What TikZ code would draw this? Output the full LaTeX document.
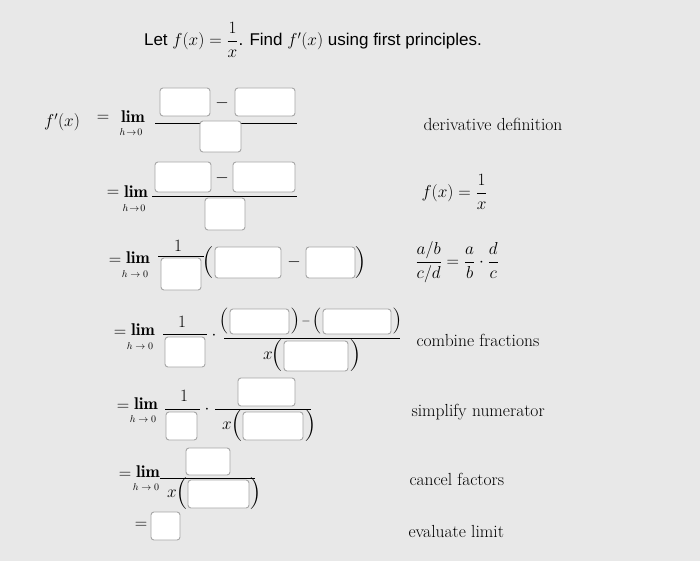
\documentclass[tikz,border=0pt]{standalone}
\usepackage{amsmath}
\usepackage{fontspec}
\newfontfamily\sansf{Liberation Sans}
\begin{document}
\begin{tikzpicture}[x=1pt,y=-1pt,
  bx/.style={draw=gray!70,fill=white,rounded corners=3pt,line width=0.9pt},
  fl/.style={line width=0.6pt},
  mt/.style={font=\fontsize{17}{20}\selectfont},
  sm/.style={font=\fontsize{10}{11}\selectfont},
  rt/.style={font=\fontsize{17.5}{20}\selectfont,anchor=west},
  par/.style={font=\fontsize{32}{32}\selectfont,inner sep=0pt},
  sp/.style={font=\fontsize{26}{26}\selectfont,inner sep=0pt}]
\fill[gray!18] (0,0) rectangle (700,561);
\useasboundingbox (0,0) rectangle (700,561);
\node[font=\sansf\fontsize{17}{20}\selectfont] (title) at (313,40) {Let $f(x)=\dfrac{1}{x}$. Find $f'(x)$ using first principles.};
% row 1
\node[mt] (fp) at (62,122) {$f'(x)$};
\node[mt] (e1) at (103,118) {$=$};
\node[mt] (l1) at (133,117) {$\mathbf{lim}$}; \node[sm] (h1) at (131,132) {$h\!\to\!0$};
\draw[bx] (160,88) rectangle (210,116); \draw[bx] (235,88) rectangle (295,116);
\node[mt] (m1) at (222,103) {$-$};
\draw[fl] (155,123) -- (297,123);
\draw[bx] (200,121) rectangle (241,152);
\node[rt] (r1) at (420,124) {derivative definition};
% row 2
\node[mt] (e2) at (113,193) {$=$};
\node[mt] (l2) at (136,192) {$\mathbf{lim}$}; \node[sm] (h2) at (134,208) {$h\!\to\!0$};
\draw[bx] (155,162) rectangle (211,192); \draw[bx] (233,162) rectangle (295,192);
\node[mt] (m2) at (222,178) {$-$};
\draw[fl] (152,196) -- (297,196);
\draw[bx] (205,198) rectangle (245,230);
\node[rt] (r2) at (418,192) {$f(x)=\dfrac{1}{x}$};
% row 3
\node[mt] (e3) at (115,261) {$=$};
\node[mt] (l3) at (138,258) {$\mathbf{lim}$}; \node[sm] (h3) at (135,274) {$h\to0$};
\node[mt] (o3) at (178,246) {$1$};
\draw[fl] (158,256) -- (204,256);
\draw[bx] (161,258) rectangle (201,290);
\node[par] (p3a) at (208,263) {(}; \node[par] (p3b) at (360,263) {)};
\draw[bx] (215,247) rectangle (281,278); \draw[bx] (306,247) rectangle (355,278);
\node[mt] (m3) at (294,262) {$-$};
\node[rt] (r3) at (412,262) {$\dfrac{a/b}{c/d}=\dfrac{a}{b}\cdot\dfrac{d}{c}$};
% row 4
\node[mt] (e4) at (120,333) {$=$};
\node[mt] (l4) at (143,330) {$\mathbf{lim}$}; \node[sm] (h4) at (140,346) {$h\to0$};
\node[mt] (o4) at (182,322) {$1$};
\draw[fl] (163,334) -- (207,334);
\draw[bx] (165,337) rectangle (205,367);
\node[mt] (d4) at (214,336) {$\cdot$};
\node[sp] (p4a) at (224,321) {(}; \node[sp] (p4b) at (295,321) {)};
\node[sp] (p4c) at (317,321) {(}; \node[sp] (p4d) at (397,321) {)};
\draw[bx] (230,309) rectangle (289,334); \draw[bx] (323,309) rectangle (391,334);
\node[font=\fontsize{12}{12}\selectfont,inner sep=0pt] (m4) at (306,321) {$-$};
\draw[fl] (224,338) -- (400,338);
\node[mt] (x4) at (268,356) {$x$};
\node[par] (p4e) at (277,356) {(}; \node[par] (p4f) at (355,356) {)};
\draw[bx] (284,341) rectangle (348,371);
\node[rt] (r4) at (413,340) {combine fractions};
% row 5
\node[mt] (e5) at (123,407) {$=$};
\node[mt] (l5) at (146,404) {$\mathbf{lim}$}; \node[sm] (h5) at (143,419) {$h\to0$};
\node[mt] (o5) at (184,396) {$1$};
\draw[fl] (165,409) -- (200,409);
\draw[bx] (166,412) rectangle (197,440);
\node[mt] (d5) at (207,410) {$\cdot$};
\draw[bx] (238,378) rectangle (295,406);
\draw[fl] (215,409) -- (311,409);
\node[mt] (x5) at (227,426) {$x$};
\node[par] (p5a) at (237,426) {(}; \node[par] (p5b) at (310,426) {)};
\draw[bx] (243,412) rectangle (303,440);
\node[rt] (r5) at (408,412) {simplify numerator};
% row 6
\node[mt] (e6) at (125,475) {$=$};
\node[mt] (l6) at (148,472) {$\mathbf{lim}$}; \node[sm] (h6) at (146,487) {$h\to0$};
\draw[bx] (186,448) rectangle (230,475);
\draw[fl] (160,478) -- (255,478);
\node[mt] (x6) at (172,494) {$x$};
\node[par] (p6a) at (182,494) {(}; \node[par] (p6b) at (255,494) {)};
\draw[bx] (188,480) rectangle (249,508);
\node[rt] (r6) at (406,479) {cancel factors};
% row 7
\node[mt] (e7) at (141,525) {$=$};
\draw[bx] (151,512) rectangle (180,540);
\node[rt] (r7) at (405,531) {evaluate limit};
\end{tikzpicture}
\end{document}
